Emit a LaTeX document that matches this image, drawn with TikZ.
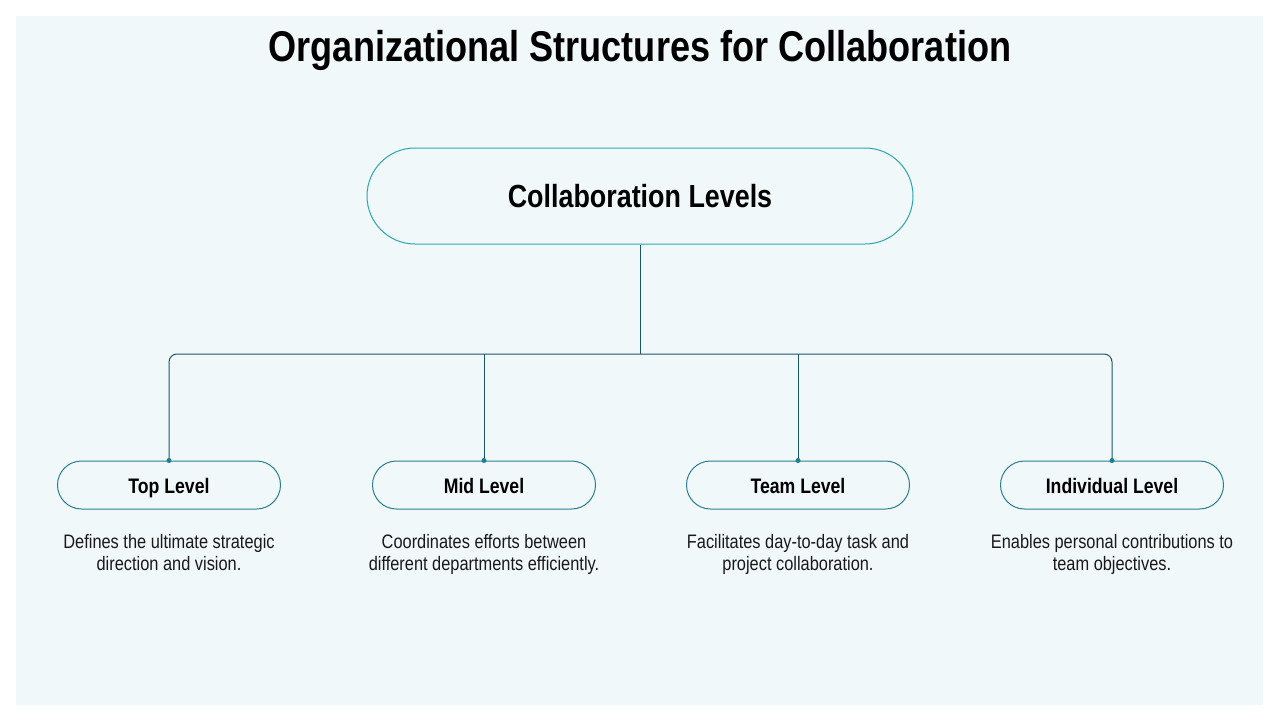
\documentclass[tikz,border=0pt]{standalone}
\usepackage{fontspec}
\setmainfont{Liberation Sans}[FakeStretch=0.84]
\usetikzlibrary{positioning}
\definecolor{bgc}{HTML}{F1F8FA}
\definecolor{mainb}{HTML}{2BA6B0}
\definecolor{lvlb}{HTML}{2A7F8F}
\definecolor{linec}{HTML}{1E5566}
\definecolor{dotc}{HTML}{1F7F92}
\tikzset{
  mainbox/.style={draw=mainb, line width=1pt, fill=bgc, rounded corners=48pt,
    minimum width=546pt, minimum height=96pt, inner sep=0pt,
    font=\fontsize{32}{38}\selectfont\bfseries},
  lvlbox/.style={draw=lvlb, line width=1pt, fill=bgc, rounded corners=24pt,
    minimum width=223pt, minimum height=48pt, inner sep=0pt,
    text height=19pt, text depth=2pt,
    font=\fontsize{21}{24}\selectfont\bfseries},
  desc/.style={align=center, inner sep=0pt, text height=15pt, text depth=5pt,
    font=\fontsize{19.5}{22}\selectfont, text=black!90},
  conn/.style={draw=linec, line width=1pt},
  dotm/.style={circle, fill=dotc, inner sep=0pt, minimum size=5pt}
}
\begin{document}
\begin{tikzpicture}[x=1pt,y=-1pt]
\useasboundingbox (0,0) rectangle (1280,720);
\fill[white] (0,0) rectangle (1280,720);
\fill[bgc] (16,16) rectangle (1263,705);
\node[font=\fontsize{43}{50}\selectfont\bfseries] (title) at (640,50) {Organizational Structures for Collaboration};
\node[mainbox] (main) at (640,196) {Collaboration Levels};
\coordinate (bus) at (640,354);
\node[lvlbox] (top) at (169,485) {Top Level};
\node[lvlbox] (mid) at (484,485) {Mid Level};
\node[lvlbox] (team) at (798,485) {Team Level};
\node[lvlbox] (ind) at (1112,485) {Individual Level};
\draw[conn] (main.south) -- (bus);
\draw[conn, rounded corners=8pt] (top.north) -- (top.north |- bus) -- (ind.north |- bus) -- (ind.north);
\draw[conn] (mid.north |- bus) -- (mid.north);
\draw[conn] (team.north |- bus) -- (team.north);
\foreach \n in {top,mid,team,ind} \node[dotm] (dot-\n) at (\n.north) {};
\node[desc] (dtop) at (169,565) {Defines the ultimate strategic\\direction and vision.};
\node[desc] (dmid) at (484,565) {Coordinates efforts between\\different departments efficiently.};
\node[desc] (dteam) at (798,565) {Facilitates day-to-day task and\\project collaboration.};
\node[desc] (dind) at (1112,565) {Enables personal contributions to\\team objectives.};
\end{tikzpicture}
\end{document}
